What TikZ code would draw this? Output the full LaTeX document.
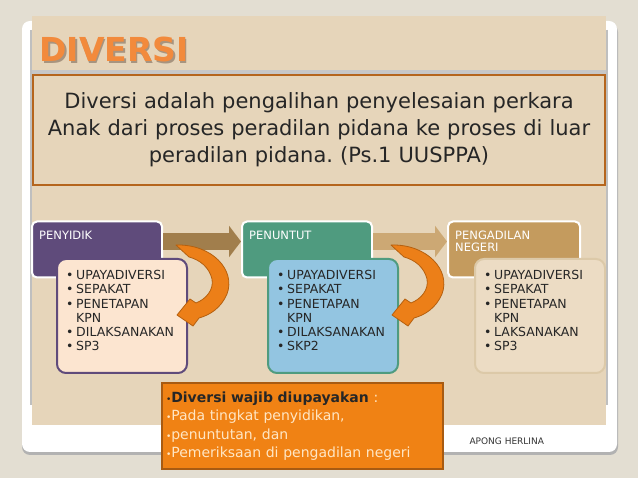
\documentclass[tikz,border=0pt]{standalone}
\usepackage{fontspec}
\setmainfont{DejaVu Sans}
\usetikzlibrary{arrows.meta}
\frenchspacing

\definecolor{bgout}{HTML}{E3DED2}
\definecolor{slide}{HTML}{E6D5BA}
\definecolor{defedge}{HTML}{B5651D}
\definecolor{titleorange}{HTML}{F28A3C}
\definecolor{titleshadow}{HTML}{7E6A58}
\definecolor{textdark}{HTML}{262626}
\definecolor{purplebox}{HTML}{5F4B7B}
\definecolor{peach}{HTML}{FCE5D0}
\definecolor{greenbox}{HTML}{4F9B7F}
\definecolor{bluebox}{HTML}{93C5E1}
\definecolor{tanbox}{HTML}{C49B5E}
\definecolor{cream}{HTML}{ECDCC4}
\definecolor{creamedge}{HTML}{DCC9A8}
\definecolor{arrowbrown}{HTML}{A17E4C}
\definecolor{arrowtan}{HTML}{CCA874}
\definecolor{curveorange}{HTML}{EC7F18}
\definecolor{curveedge}{HTML}{B5600F}
\definecolor{boxorange}{HTML}{F08214}
\definecolor{boxedge}{HTML}{A85B12}
\definecolor{boxtext}{HTML}{FFE6C4}

\newcommand\itm{\makebox[10pt][l]{•}}
\newcommand\obul{{\fontsize{9}{9}\selectfont•}}

\begin{document}
\begin{tikzpicture}[x=1pt,y=-1pt,
    hdr/.style={draw=white,line width=2pt,rounded corners=5pt,minimum width=130pt,minimum height=56pt,inner sep=0pt},
    hdrtext/.style={anchor=north west,xshift=8pt,yshift=-10pt,align=left,text=white,font=\fontsize{11.5}{12}\selectfont,inner sep=0pt},
    sub/.style={line width=2pt,rounded corners=9pt,minimum width=130pt,minimum height=114pt,inner sep=0pt},
    subtext/.style={anchor=north west,xshift=10pt,yshift=-12pt,align=left,text=textdark,font=\fontsize{12.5}{14.3}\selectfont,inner sep=0pt},
    flow/.style={line width=17pt,-{Triangle[width=31pt,length=12pt]}},
    curvy/.style={fill=curveorange,draw=curveedge,line width=0.8pt,line join=round}]
    \useasboundingbox (0,0) rectangle (638,478);
    \fill[bgout] (0,0) rectangle (638,478);

    \fill[black!30,rounded corners=8pt] (22,24) rectangle (618,455);
    \fill[white,rounded corners=8pt] (22,21) rectangle (617,452);
    \fill[slide] (32,16) rectangle (606,425);
    \draw[black!25,line width=2pt] (31,30) -- (31,405) (607,30) -- (607,405);
    \fill[black!22] (32,70) rectangle (606,74);

    \node[anchor=base west,font=\fontsize{33}{40}\selectfont\bfseries,text=titleshadow,opacity=0.6] (judulbayang) at (37.5,63.5) {DIVERSI};
    \node[anchor=base west,font=\fontsize{33}{40}\selectfont\bfseries,text=titleorange] (judul) at (36,62) {DIVERSI};

    \node[draw=defedge,line width=2pt,fill=slide,minimum width=572pt,minimum height=110pt,
        text width=568pt,align=center,inner sep=0pt,text=textdark,font=\fontsize{21}{27}\selectfont] (definisi) at (319,130)
        {Diversi adalah pengalihan penyelesaian perkara\\ Anak dari proses peradilan pidana ke proses di luar\\ peradilan pidana. (Ps.1 UUSPPA)};

    \node[hdr,fill=purplebox,label={[hdrtext]north west:PENYIDIK}] (penyidik) at (97,249.5) {};
    \node[hdr,fill=greenbox,label={[hdrtext]north west:PENUNTUT}] (penuntut) at (307,249.5) {};
    \node[hdr,fill=tanbox,minimum width=132pt,label={[hdrtext]north west:PENGADILAN\\NEGERI}] (pengadilan) at (514,249.5) {};

    \coordinate (row) at (0,241.5);
    \draw[flow,draw=arrowbrown] (penyidik.east |- row) -- (penuntut.west |- row);
    \draw[flow,draw=arrowtan] (penuntut.east |- row) -- (pengadilan.west |- row);

    \node[sub,draw=purplebox,fill=peach,label={[subtext]north west:\itm UPAYADIVERSI\\\itm SEPAKAT\\\itm PENETAPAN\\\makebox[10pt]{}KPN\\\itm DILAKSANAKAN\\\itm SP3}] (upaya1) at (122,316) {};
    \node[sub,draw=greenbox,fill=bluebox,label={[subtext]north west:\itm UPAYADIVERSI\\\itm SEPAKAT\\\itm PENETAPAN\\\makebox[10pt]{}KPN\\\itm DILAKSANAKAN\\\itm SKP2}] (upaya2) at (333,316) {};
    \node[sub,draw=creamedge,fill=cream,label={[subtext]north west:\itm UPAYADIVERSI\\\itm SEPAKAT\\\itm PENETAPAN\\\makebox[10pt]{}KPN\\\itm LAKSANAKAN\\\itm SP3}] (upaya3) at (540,316) {};

    \foreach \dx in {0,215} {
        \filldraw[curvy,xshift=\dx pt] (176,245) .. controls (212,244) and (236,270) .. (227,294)
            .. controls (221,308) and (210,315) .. (199,318) -- (193,326) -- (177,315) -- (190,299) -- (196,303)
            .. controls (206,299) and (214,290) .. (212,279) .. controls (209,267) and (200,260) .. (189,257) -- cycle;
    }

    \node[fill=boxorange,draw=boxedge,line width=1.5pt,minimum width=281pt,minimum height=86pt,
        text width=273pt,align=left,inner xsep=4pt,inner ysep=2pt,text=boxtext,font=\fontsize{14}{18.5}\selectfont] (wajib) at (302.5,426)
        {{\color{textdark}\obul\textbf{Diversi wajib diupayakan}} :\\\obul Pada tingkat penyidikan,\\\obul penuntutan, dan\\\obul Pemeriksaan di pengadilan negeri};

    \node[anchor=base west,font=\fontsize{9}{9}\selectfont,text=black!80] (penulis) at (466,445) {APONG HERLINA};
\end{tikzpicture}
\end{document}
